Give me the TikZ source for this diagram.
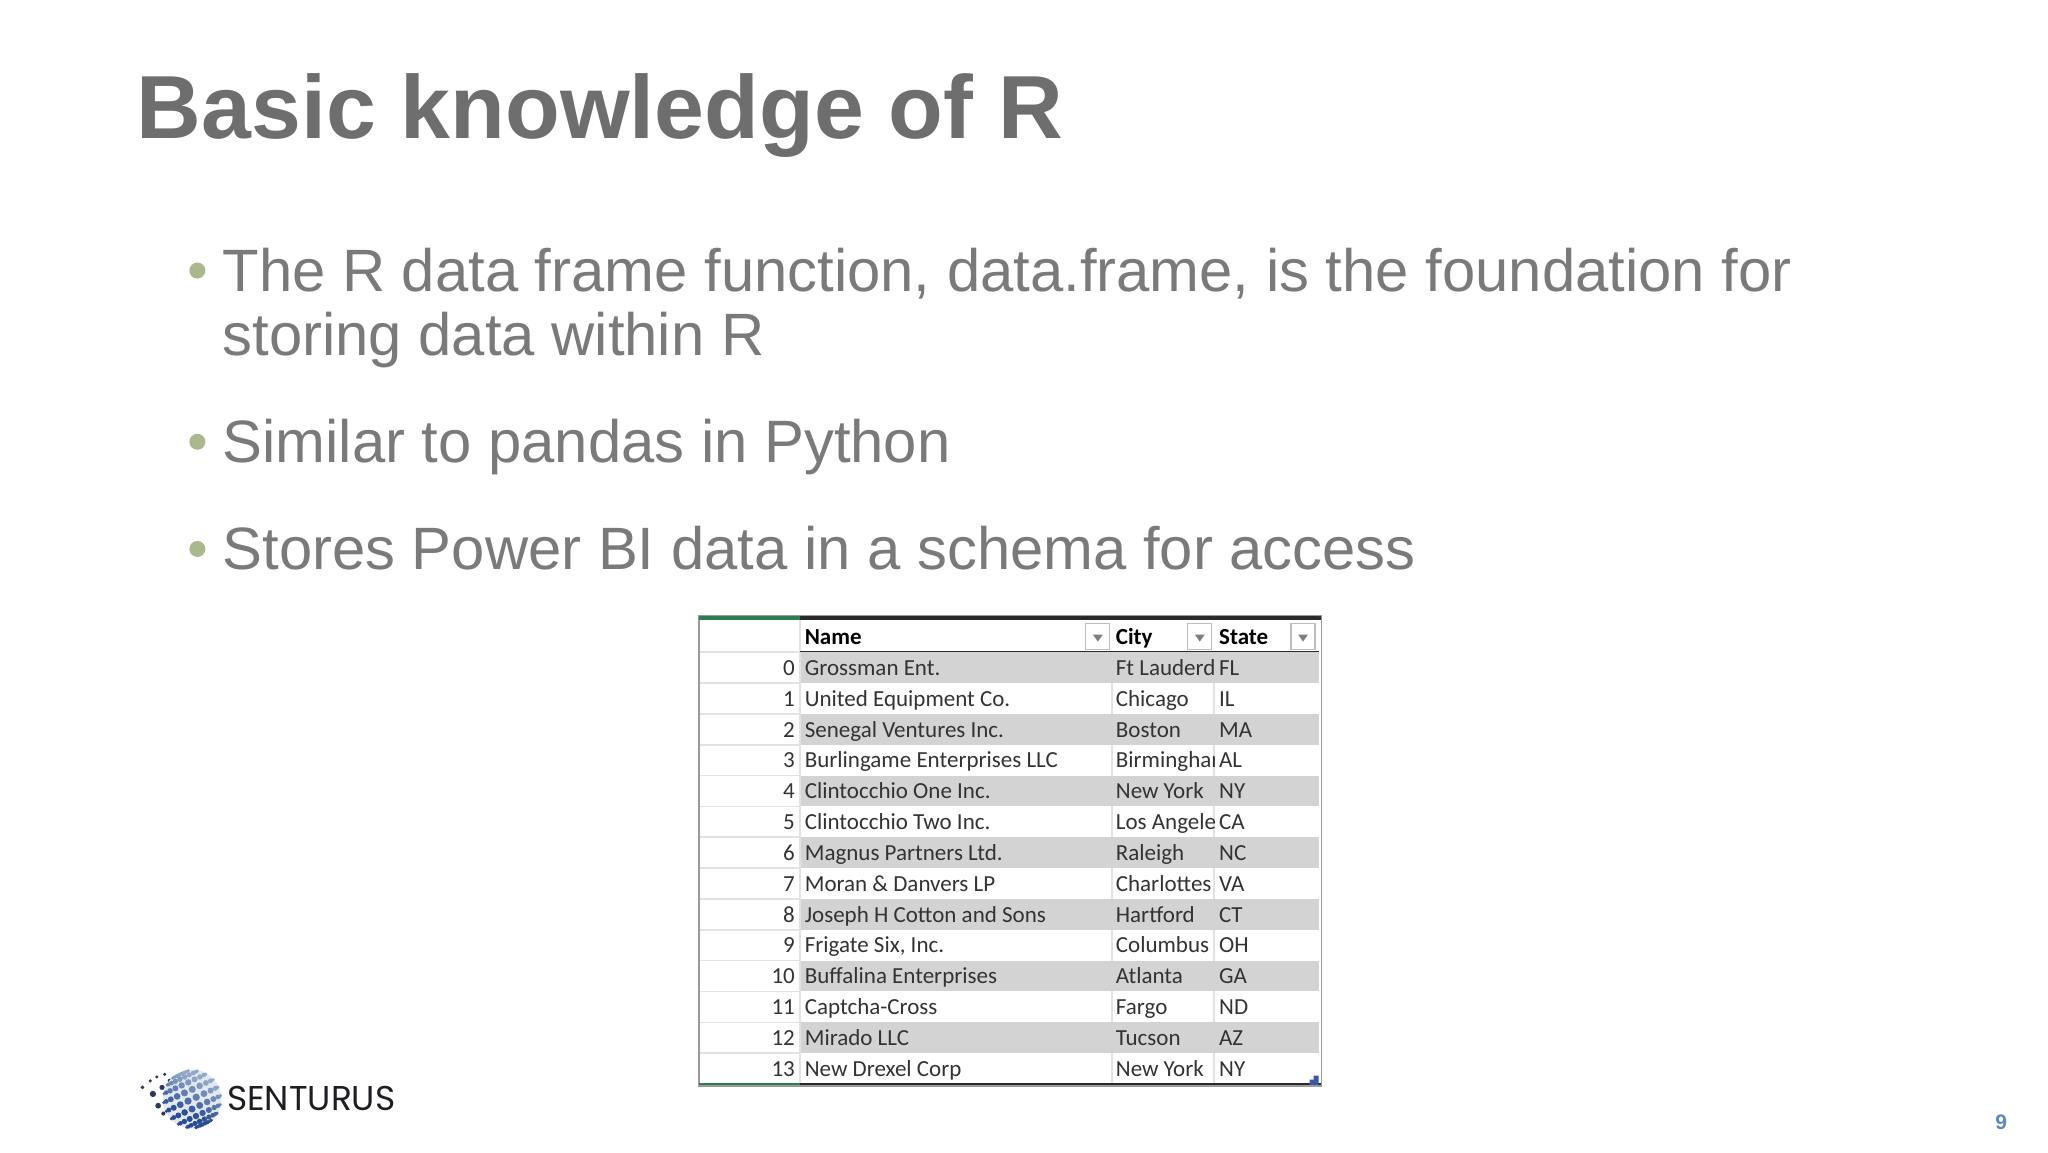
\documentclass[tikz,border=0pt]{standalone}
\usepackage{fontspec}
\setmainfont{Liberation Sans}
\newfontfamily\calibrifont{Carlito}
\newfontfamily\logofont{Poppins}
\usetikzlibrary{positioning,shapes.geometric}

\tikzset{
	titletext/.style={anchor=base west,inner sep=0pt,text=slidetitle,font=\fontsize{44.8}{50}\selectfont\bfseries},
	bodytext/.style={anchor=base west,inner sep=0pt,text=slidebody,font=\fontsize{29.9}{32.2}\selectfont},
	bullet/.style={circle,fill=slidebullet,inner sep=0pt,minimum size=8pt},
	celltext/.style={anchor=base west,inner sep=0pt,text=celltxt,font=\calibrifont\fontsize{11.5}{13}\selectfont},
	idxtext/.style={anchor=base east,inner sep=0pt,text=celltxt,font=\calibrifont\fontsize{11.5}{13}\selectfont},
	headtext/.style={anchor=base west,inner sep=0pt,text=black,font=\calibrifont\fontsize{11.5}{13}\selectfont\bfseries},
	filterbtn/.style={draw=btnline,fill=white,line width=0.6pt,minimum width=12pt,minimum height=13pt,inner sep=0pt},
	filtermark/.style={isosceles triangle,shape border rotate=-90,isosceles triangle apex angle=70,fill=btnmark,inner sep=0pt,minimum size=3.5pt},
	grid/.style={draw=gridline,line width=0.8pt},
}

\begin{document}
\begin{tikzpicture}[x=0.65347pt,y=-0.65347pt]
	\definecolor{slidetitle}{HTML}{6E6E6E}
	\definecolor{slidebody}{HTML}{7A7A7A}
	\definecolor{slidebullet}{HTML}{ABB88E}
	\definecolor{pagenum}{HTML}{5F88C2}
	\definecolor{celltxt}{HTML}{333333}
	\definecolor{band}{HTML}{D3D3D3}
	\definecolor{gridline}{HTML}{E2E2E2}
	\definecolor{btnline}{HTML}{BDBDBD}
	\definecolor{btnmark}{HTML}{7F7F7F}
	\definecolor{frameline}{HTML}{9A9A9A}
	\definecolor{headbar}{HTML}{2A2A2A}
	\definecolor{selgreen}{HTML}{2F7D4F}
	\definecolor{handle}{HTML}{3D55A5}
	\definecolor{globedark}{HTML}{2A4C92}
	\definecolor{globepale}{HTML}{9FB2CE}
	\definecolor{logodots}{HTML}{2C3A55}
	\definecolor{logotext}{HTML}{1E1E22}
	\useasboundingbox (0,0) rectangle (1567,881.44);
	\fill[white] (0,0) rectangle (1567,881.44);

	% heading and bullets
	\node[titletext] (title) at (104.5,106) {Basic knowledge of R};
	\node[bullet] (b1) at (151,207) {};
	\node[bodytext] (l1) at (170,223) {The R data frame function, data.frame, is the foundation for};
	\node[bodytext] (l1b) at (170,272) {storing data within R};
	\node[bullet] (b2) at (151,338) {};
	\node[bodytext] (l2) at (170,354) {Similar to pandas in Python};
	\node[bullet] (b3) at (151,420) {};
	\node[bodytext] (l3) at (170,436) {Stores Power BI data in a schema for access};

	% table
	\draw[frameline,line width=0.8pt] (535,471) rectangle (1011,831);
	\foreach \i in {0,2,...,12}
		\fill[band] (612,{499+23.6*\i}) rectangle (1009,{499+23.6*(\i+1)});
	\foreach \i in {0,...,14}
		\draw[grid] (535.5,{499+23.6*\i}) -- (612,{499+23.6*\i});
	\foreach \i in {1,3,...,13} {
		\draw[grid] (851,{499+23.6*\i}) -- (851,{499+23.6*(\i+1)});
		\draw[grid] (929,{499+23.6*\i}) -- (929,{499+23.6*(\i+1)});
	}
	\draw[grid] (612,473) -- (612,829);
	\draw[headbar,line width=2pt] (612,472.5) -- (1011,472.5);
	\draw[selgreen,line width=2pt] (535,472.5) -- (612,472.5);
	\draw[headbar,line width=0.9pt] (612,498.5) -- (1009,498.5);
	\draw[headbar,line width=0.9pt] (612,829.5) -- (1011,829.5);
	\draw[selgreen,line width=1.3pt] (535,829.5) -- (612,829.5);
	\fill[handle] (1002,830) -- (1002,826) -- (1005,826) -- (1005,823) -- (1009,823) -- (1009,830) -- cycle;

	\node[headtext] (hname) at (615.5,493) {Name};
	\node[headtext] (hcity) at (853.5,493) {City};
	\node[headtext] (hstate) at (932.5,493) {State};
	\foreach \b/\x in {bname/840,bcity/918,bstate/997} {
		\node[filterbtn] (\b) at (\x,487) {};
		\node[filtermark] (m\b) at (\x,487.5) {};
	}

	\foreach \i/\n/\c/\s in {0/Grossman Ent./Ft Lauderd/FL,
		1/United Equipment Co./Chicago/IL,
		2/Senegal Ventures Inc./Boston/MA,
		3/Burlingame Enterprises LLC/Birmingham/AL,
		4/Clintocchio One Inc./New York/NY,
		5/Clintocchio Two Inc./Los Angele/CA,
		6/Magnus Partners Ltd./Raleigh/NC,
		7/Moran \& Danvers LP/Charlottes/VA,
		8/Joseph H Cotton and Sons/Hartford/CT,
		9/{Frigate Six, Inc.}/Columbus/OH,
		10/Buffalina Enterprises/Atlanta/GA,
		11/Captcha-Cross/Fargo/ND,
		12/Mirado LLC/Tucson/AZ,
		13/New Drexel Corp/New York/NY} {
		\node[idxtext] (idx\i) at (608.5,{516.7+23.6*\i}) {\i};
		\node[celltext] (name\i) at (615.5,{516.7+23.6*\i}) {\n};
		\begin{scope}
			\clip (851,{499+23.6*\i}) rectangle (929,{499+23.6*(\i+1)});
			\node[celltext] (city\i) at (853.5,{516.7+23.6*\i}) {\c};
		\end{scope}
		\node[celltext] (state\i) at (932.5,{516.7+23.6*\i}) {\s};
	}

	% logo
	\foreach \px/\py/\pr in {109/832/1.5,115/827/1.3,120/824/1.3,126/822/1.3,
		117/837/2.4,124/832/2,130/827/1.7,121/846/2.2,127/839/2.2,
		125/852/1.6,130/850/2,135/857/1.7}
		\fill[logodots] (\px,\py) circle (\pr);
	\fill[globepale!30] (147,841) circle (22.5);
	\foreach \lat in {-72,-54,...,72} {
		\foreach \lon in {-81,-63,...,81} {
			\pgfmathsetmacro{\sx}{cos(\lat)*sin(\lon)}
			\pgfmathsetmacro{\sy}{sin(\lat)}
			\pgfmathsetmacro{\dx}{147+22*(\sx*cos(25)-\sy*sin(25))}
			\pgfmathsetmacro{\dy}{841-22*(\sx*sin(25)+\sy*cos(25))}
			\pgfmathsetmacro{\dr}{1.1+1.7*cos(\lat)*cos(\lon)}
			\pgfmathsetmacro{\mixv}{max(10,min(100,60-70*(\sx*0.7+\sy*0.7)))}
			\fill[globedark!\mixv!globepale] (\dx,\dy) circle (\dr);
		}
	}
	\node[anchor=base west,inner sep=0pt,text=logotext,font=\logofont\fontsize{17.2}{20}\selectfont] (logo) at (173.5,850) {SENTURUS};

	% page number
	\node[anchor=base east,inner sep=0pt,text=pagenum,font=\fontsize{10.5}{12}\selectfont\bfseries] (pagenr) at (1536,864) {9};
\end{tikzpicture}
\end{document}
